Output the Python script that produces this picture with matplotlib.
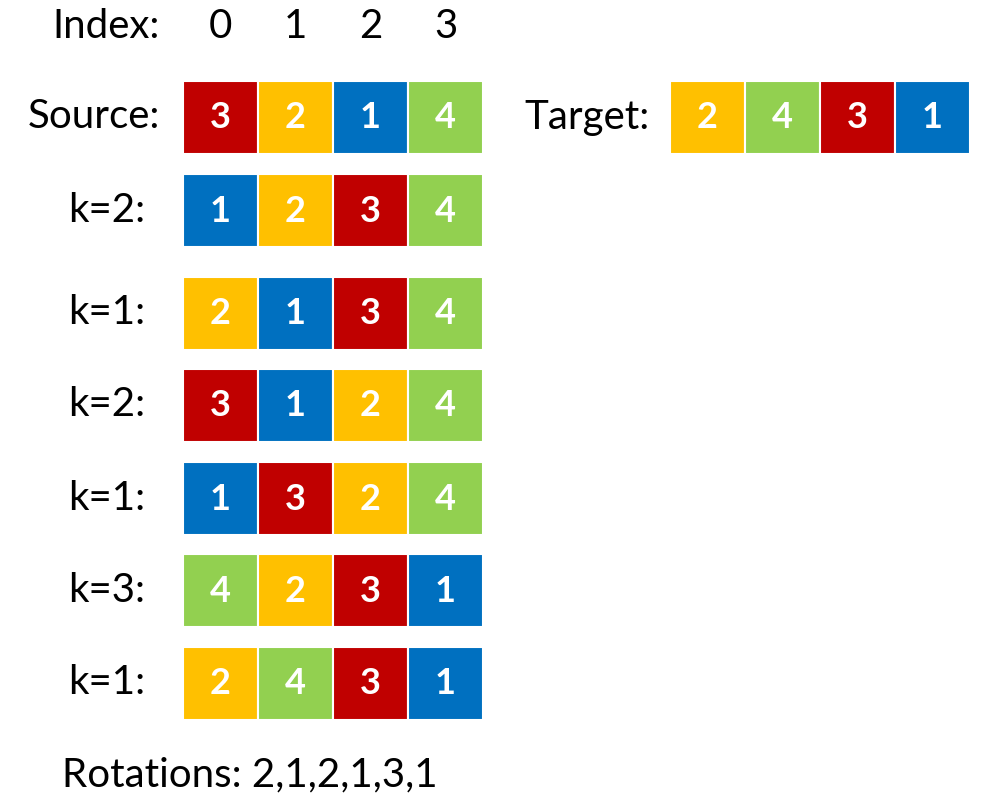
import matplotlib
matplotlib.use("Agg")
import matplotlib.pyplot as plt
from matplotlib.patches import Rectangle

plt.rcParams['font.family'] = ['Lato', 'DejaVu Sans']

indices = [0, 1, 2, 3]
row_labels = ["Source:", "k=2:", "k=1:", "k=2:", "k=1:", "k=3:", "k=1:"]
rows = [
    [3, 2, 1, 4],
    [1, 2, 3, 4],
    [2, 1, 3, 4],
    [3, 1, 2, 4],
    [1, 3, 2, 4],
    [4, 2, 3, 1],
    [2, 4, 3, 1],
]
target = [2, 4, 3, 1]
rotations_text = "Rotations: 2,1,2,1,3,1"
colors = {1: "#0070C0", 2: "#FFC000", 3: "#C00000", 4: "#92D050"}

fig = plt.figure(figsize=(9.82, 8.02), dpi=100)
ax = fig.add_axes([0, 0, 1, 1])
ax.set_xlim(0, 982)
ax.set_ylim(802, 0)
ax.axis("off")

cw, ch = 75, 73
x0 = 183
row_centers = [117, 210, 313, 405, 498, 590, 683]
fs = 29

def draw_cell(x, yc, v):
    ax.add_patch(Rectangle((x, yc - ch / 2), cw, ch, facecolor=colors[v],
                           edgecolor="white", linewidth=1.5))
    ax.text(x + cw / 2, yc + 1, str(v), color="white", fontsize=26,
            fontweight="bold", ha="center", va="center")

ax.text(160, 27, "Index:", fontsize=fs, ha="right", va="center")
for i in indices:
    ax.text(x0 + cw * i + cw / 2, 27, str(i), fontsize=fs, ha="center", va="center")

for r, (lab, vals) in enumerate(zip(row_labels, rows)):
    yc = row_centers[r]
    ax.text(160 if r == 0 else 145, yc, lab, fontsize=fs, ha="right", va="center")
    for i, v in enumerate(vals):
        draw_cell(x0 + cw * i, yc, v)

ax.text(650, row_centers[0], "Target:", fontsize=fs, ha="right", va="center")
for i, v in enumerate(target):
    draw_cell(670 + cw * i, row_centers[0], v)

ax.text(62, 775, rotations_text, fontsize=fs, ha="left", va="center")

fig.savefig("out.png", dpi=100)
